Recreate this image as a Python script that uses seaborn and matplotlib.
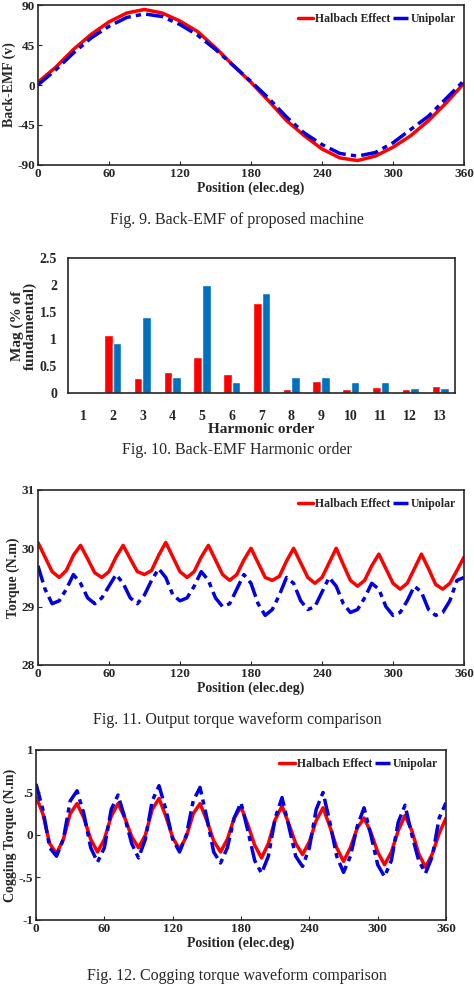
import matplotlib
matplotlib.use("Agg")
import matplotlib.pyplot as plt
import numpy as np
import pandas as pd
import seaborn as sns

sns.set_style("ticks")
plt.rcParams["font.family"] = ["Liberation Serif", "DejaVu Serif"]
plt.rcParams["xtick.direction"] = "in"
plt.rcParams["ytick.direction"] = "in"

RED = "#ff0000"
BLUE = "#0000e0"

# Fig. 9 back-EMF, every 15 deg
emf_pos = list(range(0, 361, 15))
emf_halbach = [3, 20, 40, 57, 71, 81, 85, 81, 72, 60, 42, 22, 3, -18, -40, -57,
               -72, -82, -85, -80, -70, -57, -40, -20, 2]
emf_unipolar = [0, 17, 36, 53, 66, 76, 80, 77, 68, 56, 40, 22, 4, -15, -36, -54,
                -67, -77, -80, -76, -65, -50, -35, -15, 5]

# Fig. 10 harmonics (% of fundamental)
harm_order = list(range(1, 14))
harm_halbach = [0, 1.07, 0.27, 0.39, 0.67, 0.36, 1.66, 0.08, 0.23, 0.08, 0.12, 0.08, 0.13]
harm_unipolar = [0, 0.92, 1.41, 0.30, 2.01, 0.20, 1.86, 0.30, 0.30, 0.20, 0.20, 0.09, 0.09]

# Fig. 11 / 12, every 6 deg
wave_pos = list(range(0, 361, 6))
torque_halbach = [30.10, 29.85, 29.60, 29.50, 29.62, 29.88,
                  30.05, 29.82, 29.58, 29.50, 29.60, 29.85,
                  30.05, 29.82, 29.60, 29.55, 29.62, 29.88,
                  30.10, 29.85, 29.60, 29.50, 29.60, 29.85,
                  30.05, 29.80, 29.55, 29.45, 29.55, 29.80,
                  30.00, 29.75, 29.50, 29.45, 29.52, 29.78,
                  30.00, 29.75, 29.50, 29.40, 29.50, 29.75,
                  30.00, 29.72, 29.45, 29.35, 29.45, 29.70,
                  29.90, 29.65, 29.40, 29.30, 29.40, 29.65,
                  29.90, 29.65, 29.38, 29.30, 29.40, 29.62,
                  29.85]
torque_unipolar = [29.70, 29.30, 29.05, 29.10, 29.30, 29.55,
                   29.40, 29.15, 29.05, 29.15, 29.35, 29.55,
                   29.40, 29.15, 29.05, 29.20, 29.45, 29.65,
                   29.50, 29.20, 29.10, 29.15, 29.35, 29.60,
                   29.45, 29.15, 29.00, 29.05, 29.30, 29.55,
                   29.40, 29.05, 28.85, 28.95, 29.20, 29.50,
                   29.40, 29.10, 28.95, 29.00, 29.25, 29.50,
                   29.35, 29.05, 28.90, 28.95, 29.15, 29.40,
                   29.30, 29.00, 28.85, 28.90, 29.10, 29.35,
                   29.25, 28.95, 28.85, 28.90, 29.10, 29.45,
                   29.50]
cog_halbach = [0.45, 0.25, -0.10, -0.22, -0.05, 0.25,
               0.37, 0.20, -0.05, -0.20, -0.05, 0.22,
               0.37, 0.20, -0.02, -0.15, 0.00, 0.30,
               0.43, 0.22, -0.03, -0.17, -0.02, 0.25,
               0.37, 0.17, -0.07, -0.20, -0.05, 0.20,
               0.33, 0.12, -0.12, -0.27, -0.10, 0.18,
               0.34, 0.13, -0.10, -0.23, -0.08, 0.17,
               0.32, 0.10, -0.15, -0.31, -0.15, 0.08,
               0.20, 0.03, -0.20, -0.35, -0.20, 0.05,
               0.23, 0.05, -0.22, -0.38, -0.22, 0.02,
               0.20]
cog_unipolar = [0.60, 0.30, -0.15, -0.25, -0.05, 0.40,
                0.52, 0.25, -0.15, -0.32, -0.15, 0.30,
                0.47, 0.20, -0.10, -0.27, -0.05, 0.40,
                0.58, 0.30, -0.05, -0.20, 0.00, 0.40,
                0.56, 0.20, -0.20, -0.33, -0.15, 0.20,
                0.38, 0.05, -0.30, -0.45, -0.25, 0.20,
                0.44, 0.10, -0.25, -0.37, -0.15, 0.30,
                0.50, 0.15, -0.25, -0.44, -0.25, 0.10,
                0.32, 0.00, -0.35, -0.49, -0.30, 0.15,
                0.35, 0.00, -0.30, -0.45, -0.25, 0.20,
                0.38]

fig = plt.figure(figsize=(4.74, 9.85), dpi=100)
bold = dict(fontweight="bold", fontsize=10)


def style_ax(ax, size=9.5):
    for s in ax.spines.values():
        s.set_visible(True)
        s.set_linewidth(1.2)
    ax.tick_params(labelsize=size, length=3, pad=2, top=False, right=False)
    for t in ax.get_xticklabels() + ax.get_yticklabels():
        t.set_fontweight("bold")


def line_panel(rect, x, h, u, ylim, yticks, ylabels, ylabel, hlabel):
    ax = fig.add_axes(rect)
    sns.lineplot(x=x, y=h, ax=ax, color=RED, lw=2.5, label=hlabel)
    sns.lineplot(x=x, y=u, ax=ax, color=BLUE, lw=2.5, ls=(0, (5, 1.5, 1.5, 1.5)),
                 label="Unipolar")
    ax.set_xlim(0, 360)
    ax.set_ylim(*ylim)
    ax.set_xticks(range(0, 361, 60))
    ax.set_yticks(yticks)
    ax.set_yticklabels(ylabels)
    ax.set_xlabel("Position (elec.deg)", **bold, labelpad=1)
    ax.set_ylabel(ylabel, **bold, labelpad=1)
    ax.legend(loc="upper right", ncol=2, frameon=False, handlelength=1.3,
              columnspacing=0.2, handletextpad=0.2, borderaxespad=0.3,
              prop=dict(weight="bold", size=8.5))
    style_ax(ax)
    return ax


line_panel([0.080, 0.8325, 0.899, 0.1624], emf_pos, emf_halbach, emf_unipolar,
           (-90, 90), [-90, -45, 0, 45, 90], ["-90", "-45", "0", "45", "90"],
           "Back-EMF (v)", "Halbach Effect")

# bar panel
ax2 = fig.add_axes([0.1435, 0.601, 0.8165, 0.137])
df = pd.DataFrame({
    "order": harm_order * 2,
    "mag": harm_halbach + harm_unipolar,
    "series": ["Halbach"] * len(harm_order) + ["Unipolar"] * len(harm_order),
})
sns.barplot(data=df, x="order", y="mag", hue="series", ax=ax2,
            palette=[RED, "#0070c0"], width=0.58, saturation=1, legend=False)
ax2.set_xlim(-0.5, 12.5)
ax2.set_ylim(0, 2.5)
ax2.set_yticks([0, 0.5, 1, 1.5, 2, 2.5])
ax2.set_yticklabels(["0", "0.5", "1", "1.5", "2", "2.5"])
ax2.set_xlabel("Harmonic order", fontweight="bold", fontsize=11, labelpad=0)
ax2.set_ylabel("Mag (% of\nfundamental)", fontweight="bold", fontsize=11,
               labelpad=2, linespacing=0.95)
style_ax(ax2, 10)
ax2.tick_params(axis="x", length=0, pad=12)
ax2.tick_params(axis="y", length=0, pad=8)

line_panel([0.080, 0.3249, 0.899, 0.1777], wave_pos, torque_halbach, torque_unipolar,
           (28, 31), [28, 29, 30, 31], ["28", "29", "30", "31"],
           "Torque (N.m)", "Halbach Effect")
line_panel([0.076, 0.066, 0.865, 0.1726], wave_pos, cog_halbach, cog_unipolar,
           (-1, 1), [-1, -0.5, 0, 0.5, 1], ["-1", "-.5", "0", ".5", "1"],
           "Cogging Torque (N.m)", "Halbach Effect")

caps = [(220, "Fig. 9. Back-EMF of proposed machine"),
        (450, "Fig. 10. Back-EMF Harmonic order"),
        (720, "Fig. 11. Output torque waveform comparison"),
        (976, "Fig. 12. Cogging torque waveform comparison")]
for y, t in caps:
    fig.text(0.5, 1 - y / 985, t, ha="center", va="center", fontsize=11.5)

fig.savefig("out.png", dpi=100)
